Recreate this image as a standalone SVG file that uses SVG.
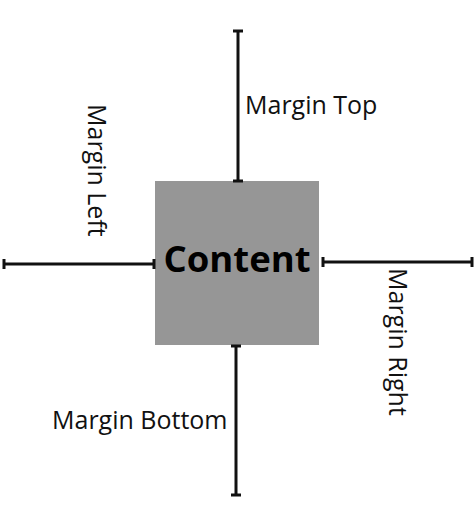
<svg xmlns="http://www.w3.org/2000/svg" width="474" height="526" viewBox="0 0 474 526">
<style>
.lbl{font-family:"Open Sans","Noto Sans",sans-serif;font-size:25px;fill:#111}
.ln{stroke:#111;stroke-width:3;fill:none}
.cap{stroke:#111;stroke-width:3;fill:none}
</style>
<rect width="474" height="526" fill="#fff"/>
<g id="content">
<rect x="155" y="181" width="164" height="164" fill="#969696"/>
<text x="237" y="272" text-anchor="middle" style="font-family:'Open Sans','Noto Sans',sans-serif;font-weight:bold;font-size:36.5px;fill:#000">Content</text>
</g>
<g id="connectors">
<line class="ln" x1="238" y1="31" x2="238" y2="181"/>
<line class="cap" x1="233" y1="31" x2="243" y2="31"/>
<line class="cap" x1="233" y1="181" x2="243" y2="181"/>
<line class="ln" x1="4" y1="264" x2="154" y2="264"/>
<line class="cap" x1="4" y1="259" x2="4" y2="269"/>
<line class="cap" x1="154" y1="259" x2="154" y2="269"/>
<line class="ln" x1="323" y1="262" x2="472" y2="262"/>
<line class="cap" x1="323" y1="257" x2="323" y2="267"/>
<line class="cap" x1="472" y1="257" x2="472" y2="267"/>
<line class="ln" x1="236" y1="346" x2="236" y2="495"/>
<line class="cap" x1="231" y1="346" x2="241" y2="346"/>
<line class="cap" x1="231" y1="495" x2="241" y2="495"/>
</g>
<g id="margin-top"><text class="lbl" x="245" y="114">Margin Top</text></g>
<g id="margin-bottom"><text class="lbl" x="52" y="429">Margin Bottom</text></g>
<g id="margin-left"><text class="lbl" transform="translate(88,104) rotate(90)">Margin Left</text></g>
<g id="margin-right"><text class="lbl" transform="translate(389,268) rotate(90)">Margin Right</text></g>
</svg>
